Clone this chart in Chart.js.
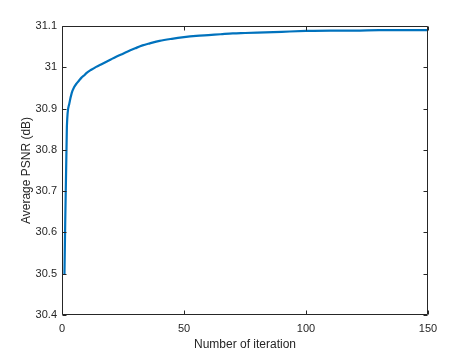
<!DOCTYPE html>
<html>
<head>
<meta charset="utf-8">
<script src="https://cdn.jsdelivr.net/npm/chart.js@4/dist/chart.umd.min.js"></script>
<style>
html,body{margin:0;padding:0;background:#fff;}
#wrap{width:474px;height:355px;position:relative;}
</style>
</head>
<body>
<div id="wrap"><canvas id="c" width="474" height="355"></canvas></div>
<script>
const iterations = [1,2,3,4,5,6,7,8,9,10,12,14,16,18,20,22,25,28,30,33,36,40,45,50,55,60,65,70,75,80,90,100,110,120,130,140,150];
const psnr = [30.497,30.856,30.912,30.938,30.952,30.961,30.968,30.975,30.980,30.986,30.994,31.001,31.007,31.013,31.019,31.025,31.033,31.041,31.046,31.053,31.058,31.064,31.069,31.073,31.076,31.078,31.080,31.082,31.083,31.084,31.086,31.088,31.089,31.089,31.090,31.090,31.090];
const xTicks = [0,50,100,150];
const yTicks = [30.4,30.5,30.6,30.7,30.8,30.9,31.0,31.1];
const xTitle = 'Number of iteration';
const yTitle = 'Average PSNR (dB)';

const axisColor = '#262626';
const tickFont = {family:'"Liberation Sans", Arial, sans-serif', size:11};
const titleFont = {family:'"Liberation Sans", Arial, sans-serif', size:12};

const boxPlugin = {
  id:'box',
  afterDatasetsDraw(chart){
    const {ctx, chartArea:a, scales} = chart;
    ctx.save();
    ctx.strokeStyle = axisColor;
    ctx.lineWidth = 1;
    const L = Math.round(a.left)+0.5, R = Math.round(a.right)-0.5, T = Math.round(a.top)+0.5, B = Math.round(a.bottom)-0.5;
    ctx.beginPath();
    ctx.rect(L, T, R-L, B-T);
    ctx.stroke();
    const len = 4;
    ctx.beginPath();
    scales.x.ticks.forEach(t=>{
      const px = Math.round(scales.x.getPixelForValue(t.value))+0.5;
      ctx.moveTo(px,B); ctx.lineTo(px,B-len);
      ctx.moveTo(px,T); ctx.lineTo(px,T+len);
    });
    scales.y.ticks.forEach(t=>{
      const py = Math.round(scales.y.getPixelForValue(t.value))+0.5;
      ctx.moveTo(L,py); ctx.lineTo(L+len,py);
      ctx.moveTo(R,py); ctx.lineTo(R-len,py);
    });
    ctx.stroke();
    ctx.restore();
  }
};

new Chart(document.getElementById('c'), {
  type:'line',
  data:{
    datasets:[{
      data: iterations.map((it,i)=>({x:it, y:psnr[i]})),
      borderColor:'#0072BD',
      borderWidth:2.2,
      pointRadius:0,
      fill:false,
      cubicInterpolationMode:'monotone'
    }]
  },
  options:{
    responsive:false,
    animation:false,
    devicePixelRatio:1,
    layout:{padding:{left:0,right:46,top:26,bottom:0}},
    plugins:{legend:{display:false},tooltip:{enabled:false}},
    scales:{
      x:{
        type:'linear', min:0, max:150,
        afterBuildTicks(s){ s.ticks = xTicks.map(v=>({value:v})); },
        afterFit(s){ s.height = 40; },
        grid:{display:false, drawTicks:false},
        border:{display:false},
        ticks:{color:axisColor, font:tickFont, padding:7, maxRotation:0, autoSkip:false,
          callback:v=>String(v)},
        title:{display:true, text:xTitle, color:axisColor, font:titleFont, padding:{top:0,bottom:3}}
      },
      y:{
        type:'linear', min:30.4, max:31.1,
        afterBuildTicks(s){ s.ticks = yTicks.map(v=>({value:v})); },
        afterFit(s){ s.width = 62; },
        grid:{display:false, drawTicks:false},
        border:{display:false},
        ticks:{color:axisColor, font:tickFont, padding:5, autoSkip:false,
          callback:v=>String(Number(Number(v).toFixed(1)))},
        title:{display:true, text:yTitle, color:axisColor, font:titleFont, padding:{top:19,bottom:0}}
      }
    }
  },
  plugins:[boxPlugin]
});
</script>
</body>
</html>
